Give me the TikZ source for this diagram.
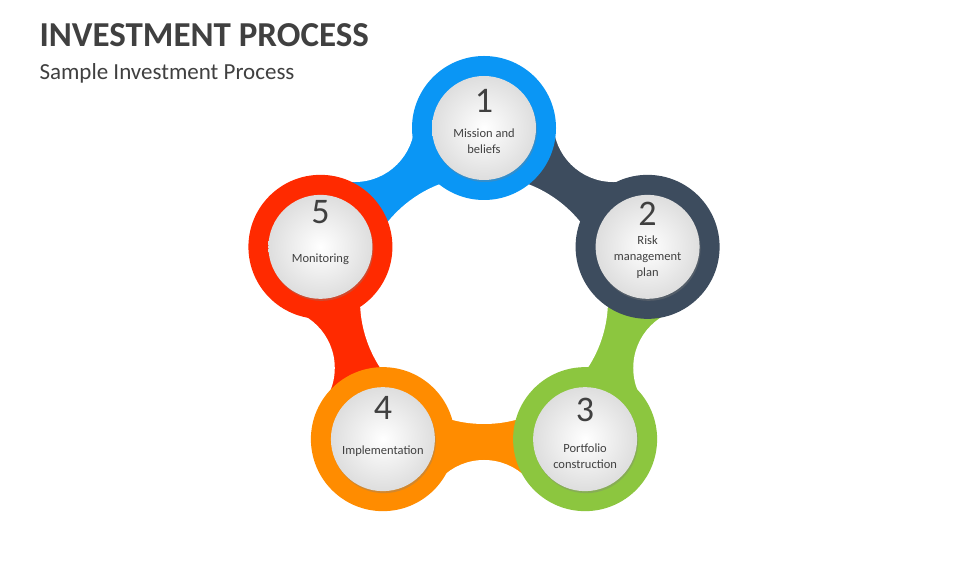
\documentclass[tikz,border=0pt]{standalone}
\usepackage{fontspec}
\setmainfont{Carlito}
\usetikzlibrary{calc,shadows}
\definecolor{cblue}{HTML}{0A96F5}
\definecolor{cdark}{HTML}{3D4C5E}
\definecolor{cgreen}{HTML}{8CC63F}
\definecolor{corange}{HTML}{FF8C00}
\definecolor{cred}{HTML}{FF2A00}
\definecolor{ctext}{HTML}{404040}
\begin{document}
\begin{tikzpicture}[x=1pt,y=1pt,
  ring/.style={circle,minimum size=144pt,inner sep=0pt},
  disc/.style={circle,minimum size=104pt,inner sep=0pt,inner color=white,outer color=black!13,drop shadow={opacity=0.35,shadow xshift=1pt,shadow yshift=-2pt}},
  num/.style={font=\fontsize{36}{36}\selectfont,text=ctext,inner sep=0pt},
  lab/.style={font=\fontsize{12.5}{16}\selectfont,text=ctext,align=center,inner sep=1pt},
  band/.style={line width=80pt}]
\fill[white] (0,0) rectangle (960,540);
\coordinate (o) at (484,240);
\coordinate (p1) at ($(o)+(90:172)$);
\coordinate (p2) at ($(o)+(18:172)$);
\coordinate (p3) at ($(o)+(-54:172)$);
\coordinate (p4) at ($(o)+(-126:172)$);
\coordinate (p5) at ($(o)+(162:172)$);
% bands
\draw[band,cblue] (p1) -- (p5);
\draw[band,cdark] (p1) -- (p2);
\draw[band,cgreen] (p2) -- (p3);
\draw[band,corange] (p3) -- (p4);
\draw[band,cred] (p4) -- (p5);
% carve
\fill[white] (o) circle (124);
\foreach \a in {126,54,-18,-90,198}{\fill[white] ($(o)+(\a:220)$) circle (60);}
% rings
\node[ring,fill=cblue] (r1) at (p1) {};
\node[ring,fill=cdark] (r2) at (p2) {};
\node[ring,fill=cgreen] (r3) at (p3) {};
\node[ring,fill=corange] (r4) at (p4) {};
\node[ring,fill=cred] (r5) at (p5) {};
\foreach \i in {1,...,5}{\node[disc] (d\i) at (p\i) {};}
\node[num] (n1) at ($(p1)+(0,27)$) {1};
\node[lab] (l1) at ($(p1)+(0,-13)$) {Mission and\\beliefs};
\node[num] (n2) at ($(p2)+(0,33)$) {2};
\node[lab] (l2) at ($(p2)+(0,-10)$) {Risk\\management\\plan};
\node[num] (n3) at ($(p3)+(0,29)$) {3};
\node[lab] (l3) at ($(p3)+(0,-17)$) {Portfolio\\construction};
\node[num] (n4) at ($(p4)+(0,31)$) {4};
\node[lab] (l4) at ($(p4)+(0,-12)$) {Implementation};
\node[num] (n5) at ($(p5)+(0,35)$) {5};
\node[lab] (l5) at ($(p5)+(0,-12)$) {Monitoring};
\node[anchor=west,font=\bfseries\fontsize{35}{35}\selectfont,text=ctext] (title) at (36,505) {INVESTMENT PROCESS};
\node[anchor=west,font=\fontsize{23}{23}\selectfont,text=ctext] (sub) at (36,467) {Sample Investment Process};
\end{tikzpicture}
\end{document}
